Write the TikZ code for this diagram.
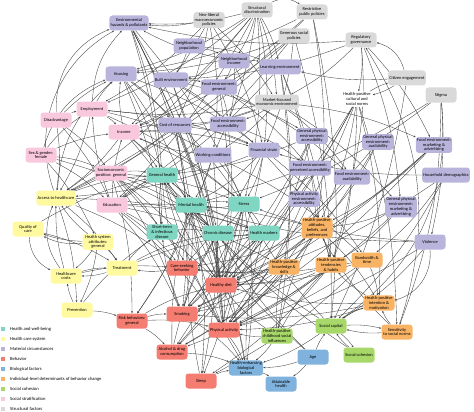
\documentclass[tikz,border=0pt]{standalone}
\usepackage{fontspec}
\setmainfont{Carlito}
\usetikzlibrary{arrows.meta,backgrounds}
\definecolor{hwcol}{HTML}{7FD6C2}
\definecolor{hcscol}{HTML}{FFFAA0}
\definecolor{matcol}{HTML}{B8B4DC}
\definecolor{behcol}{HTML}{F47C70}
\definecolor{biocol}{HTML}{7FB2DC}
\definecolor{indcol}{HTML}{F9B365}
\definecolor{soccol}{HTML}{A8D86A}
\definecolor{stratcol}{HTML}{F9C8DD}
\definecolor{strcol}{HTML}{D9D9D9}

\begin{document}
\begin{tikzpicture}[x=1pt,y=-1pt,
    box/.style={rounded corners=3pt,align=center,minimum width=31pt,minimum height=15pt,inner sep=1.2pt,font=\fontsize{4.4}{4.8}\selectfont},
    hw/.style={box,fill=hwcol},
    hcs/.style={box,fill=hcscol},
    mat/.style={box,fill=matcol},
    beh/.style={box,fill=behcol},
    bio/.style={box,fill=biocol},
    ind/.style={box,fill=indcol},
    soc/.style={box,fill=soccol},
    strat/.style={box,fill=stratcol},
    strc/.style={box,fill=strcol},
    edge/.style={draw=black!75,line width=0.35pt,-{Stealth[length=2.2pt,width=1.8pt]}},
    legtext/.style={anchor=west,inner sep=0pt,font=\fontsize{4.6}{5}\selectfont}]
  \useasboundingbox (0,0) rectangle (474,412);
  \node[strc] (sd) at (257,10) {Structural\\discrimination};
  \node[strc] (rpp) at (312,12) {Restrictive\\public policies};
  \node[strc] (nlp) at (209,20) {Neo-liberal\\macroeconomic\\policies};
  \node[strc] (gsp) at (294,36) {Generous social\\policies};
  \node[strc] (rg) at (361,40) {Regulatory\\governance};
  \node[strc] (ce) at (407,78) {Citizen engagement};
  \node[strc] (stig) at (441,95) {Stigma};
  \node[strc] (mfe) at (277,102) {Market-focused\\economic environment};
  \node[box,fill=white] (csn) at (357,99) {Health-positive\\cultural and\\social norms};
  \node[mat] (ehp) at (129,23) {Environmental\\hazards \& pollutants};
  \node[mat] (hous) at (121,74) {Housing};
  \node[mat] (built) at (171,80) {Built environment};
  \node[mat] (npop) at (189,46) {Neighborhood\\population};
  \node[mat] (ninc) at (234,61) {Neighborhood\\income};
  \node[mat] (learn) at (280,67) {Learning environment};
  \node[mat] (feg) at (219,87) {Food environment:\\general};
  \node[mat] (cost) at (175,125) {Cost of resources};
  \node[mat] (fea) at (228,124) {Food environment:\\accessibility};
  \node[mat] (gpea) at (312,136) {General physical\\environment:\\accessibility};
  \node[mat] (work) at (213,155) {Working conditions};
  \node[mat] (fin) at (264,150) {Financial strain};
  \node[mat] (fepa) at (310,168) {Food environment:\\perceived accessibility};
  \node[mat] (feav) at (352,177) {Food environment:\\availability};
  \node[mat] (paea) at (304,199) {Physical activity\\environment:\\accessibility};
  \node[mat] (gpeav) at (378,142) {General physical\\environment:\\availability};
  \node[mat] (fema) at (434,145) {Food environment:\\marketing \&\\advertising};
  \node[mat] (hhd) at (446,175) {Household demographics};
  \node[mat] (gpem) at (401,207) {General physical\\environment:\\marketing \&\\advertising};
  \node[mat] (viol) at (430,242) {Violence};
  \node[strat] (emp) at (92,109) {Employment};
  \node[strat] (dis) at (56,120) {Disadvantage};
  \node[strat] (inc) at (124,132) {Income};
  \node[strat] (sex) at (41,155) {Sex \& gender:\\female};
  \node[strat] (sep) at (111,173) {Socioeconomic\\position: general};
  \node[strat] (edu) at (112,205) {Education};
  \node[hcs] (acc) at (56,198) {Access to healthcare};
  \node[hcs] (qoc) at (28,229) {Quality of\\care};
  \node[hcs] (hsa) at (98,242) {Health system\\attributes:\\general};
  \node[hcs] (treat) at (122,268) {Treatment};
  \node[hcs] (hcc) at (66,276) {Healthcare\\costs};
  \node[hcs] (prev) at (77,310) {Prevention};
  \node[hw] (gh) at (162,175) {General health};
  \node[hw] (mh) at (191,205) {Mental health};
  \node[hw] (stress) at (244,204) {Stress};
  \node[hw] (sti) at (162,232) {Short-term\\\& infectious\\disease};
  \node[hw] (cd) at (218,233) {Chronic disease};
  \node[hw] (hm) at (264,233) {Health markers};
  \node[beh] (csb) at (182,268) {Care-seeking\\behavior};
  \node[beh] (diet) at (221,285) {Healthy diet};
  \node[beh] (smok) at (182,314) {Smoking};
  \node[beh] (risk) at (132,321) {Risk behaviors:\\general};
  \node[beh] (pa) at (224,330) {Physical activity};
  \node[beh] (alc) at (172,352) {Alcohol \& drug\\consumption};
  \node[beh] (sleep) at (201,381) {Sleep};
  \node[bio] (hebf) at (246,368) {Health-enhancing\\biological\\factors};
  \node[bio] (age) at (313,357) {Age};
  \node[bio] (ah) at (281,384) {Attainable\\health};
  \node[soc] (hcsi) at (277,336) {Health-positive\\childhood social\\influences};
  \node[soc] (scap) at (331,326) {Social capital};
  \node[soc] (scoh) at (359,355) {Social cohesion};
  \node[ind] (att) at (317,228) {Health-positive\\attitudes,\\beliefs, and\\preferences};
  \node[ind] (know) at (284,267) {Health-positive\\knowledge \&\\skills};
  \node[ind] (tend) at (331,265) {Health-positive\\tendencies\\\& habits};
  \node[ind] (band) at (367,260) {Bandwidth \&\\time};
  \node[ind] (intm) at (379,303) {Health-positive\\intention \&\\motivation};
  \node[ind] (sens) at (397,332) {Sensitivity\\to social norms};
  \foreach \c/\t [count=\i from 0] in {hwcol/Health and well-being,hcscol/Health care system,matcol/Material circumstances,behcol/Behavior,biocol/Biological factors,indcol/Individual-level determinants of behavior change,soccol/Social cohesion,stratcol/Social stratification,strcol/Structural factors}{
    \fill[\c] (0.5,{327+10*\i}) rectangle +(4,4);
    \node[legtext] (leg\i) at (10,{329+10*\i}) {\t};
  }
  \begin{scope}[on background layer]
    \foreach \a/\b in {sd/ehp,sd/hous,sd/ninc,sd/learn,sd/emp,sd/inc,sd/edu,sd/stress,sd/acc,sd/mfe,sd/fin,sd/work,
        rpp/inc,rpp/acc,rpp/hous,rpp/att,rpp/scap,nlp/emp,nlp/inc,nlp/fin,nlp/mfe,nlp/cost,nlp/work,nlp/ehp,
        gsp/inc,gsp/edu,gsp/fin,gsp/hous,gsp/acc,gsp/scap,rg/ehp,rg/fema,rg/gpem,rg/feav,rg/mfe,rg/built,rg/csn,
        ce/scap,ce/csn,ce/learn,stig/mh,stig/stress,stig/viol,
        mfe/cost,mfe/fea,mfe/work,mfe/fema,mfe/gpem,mfe/feav,mfe/emp,mfe/inc,
        csn/att,csn/diet,csn/pa,csn/smok,csn/alc,csn/tend,csn/intm,csn/ce,csn/sens,
        ehp/gh,ehp/sti,ehp/cd,ehp/hebf,ehp/diet,ehp/mh,ehp/stress,
        hous/gh,hous/mh,hous/stress,hous/sti,hous/fin,hous/cost,
        built/pa,built/diet,built/paea,built/fea,built/gpea,built/feg,
        npop/learn,npop/built,npop/ninc,ninc/learn,ninc/built,ninc/feg,ninc/fea,ninc/ehp,
        learn/edu,learn/know,learn/att,learn/tend,learn/hcsi,feg/diet,feg/fea,feg/feav,feg/fepa,
        cost/diet,cost/pa,cost/fin,cost/csb,cost/acc,cost/smok,fea/diet,fea/fepa,
        gpea/pa,gpea/smok,gpea/alc,gpea/gh,work/stress,work/mh,work/gh,work/inc,work/risk,work/band,work/sleep,
        fin/stress,fin/mh,fin/diet,fin/csb,fin/band,fin/acc,fepa/diet,fepa/att,feav/diet,feav/tend,
        paea/pa,paea/tend,gpeav/pa,gpeav/diet,gpeav/att,fema/diet,fema/alc,fema/smok,fema/att,
        hhd/diet,hhd/band,hhd/scap,hhd/fin,gpem/pa,gpem/att,gpem/tend,viol/stress,viol/mh,viol/pa,viol/scap,
        emp/inc,emp/work,emp/hous,emp/acc,emp/fin,emp/stress,dis/hous,dis/emp,dis/edu,dis/acc,dis/sep,
        inc/hous,inc/fin,inc/cost,inc/diet,inc/acc,inc/gh,inc/stress,inc/mh,
        sex/sep,sex/emp,sex/inc,sex/edu,sex/cd,sex/hsa,
        sep/gh,sep/mh,sep/cd,sep/sti,sep/diet,sep/smok,sep/risk,sep/pa,sep/stress,
        edu/emp,edu/inc,edu/know,edu/att,edu/csb,edu/diet,edu/smok,edu/pa,edu/gh,edu/hm,
        acc/csb,acc/treat,acc/prev,acc/gh,acc/hm,qoc/treat,qoc/gh,
        hsa/acc,hsa/qoc,hsa/treat,hsa/hcc,hsa/prev,treat/cd,treat/sti,treat/hm,treat/hcc,
        hcc/acc,hcc/csb,hcc/treat,prev/hcc,prev/risk,prev/sti,
        gh/mh,mh/gh,mh/stress,mh/risk,mh/diet,mh/smok,mh/sleep,mh/pa,
        stress/mh,stress/cd,stress/hm,stress/diet,stress/smok,stress/alc,stress/sleep,stress/hebf,
        sti/gh,sti/cd,cd/gh,cd/mh,cd/hm,hm/cd,hm/gh,csb/treat,csb/gh,csb/hm,
        diet/hm,diet/cd,diet/hebf,diet/gh,smok/cd,smok/hm,smok/hebf,smok/sti,
        risk/smok,risk/alc,risk/diet,risk/pa,pa/hm,pa/cd,pa/mh,pa/hebf,pa/stress,
        alc/cd,alc/mh,alc/hebf,sleep/hebf,sleep/mh,hebf/ah,hebf/gh,hebf/hm,
        age/hebf,age/ah,age/scap,age/cd,age/gh,hcsi/hebf,hcsi/diet,hcsi/pa,hcsi/att,hcsi/know,hcsi/tend,
        scap/scoh,scap/mh,scap/stress,scap/intm,scap/sens,scap/hebf,scoh/scap,scoh/mh,
        att/intm,att/diet,att/pa,att/smok,att/tend,att/csb,know/diet,know/pa,know/smok,know/csb,know/att,know/alc,
        tend/diet,tend/pa,tend/smok,tend/alc,tend/sleep,band/diet,band/pa,band/csb,band/sleep,band/intm,
        intm/diet,intm/pa,intm/smok,intm/tend,sens/intm,sens/att,sens/scap}
      \draw[edge] (\a) to[bend left=8] (\b);
    \foreach \a/\b/\k in {dis/ehp/35,acc/ehp/40,emp/ehp/20,sex/hous/25,acc/hous/22,stig/scap/30,viol/intm/40,
        sd/rpp/30,stig/sens/10,hcc/acc/30,hsa/qoc/15}
      \draw[edge] (\a) to[bend left=\k] (\b);
    \foreach \a/\b/\k in {qoc/hcc/30,sens/rg/25,ce/rg/30}
      \draw[edge] (\a) to[bend right=\k] (\b);
  \end{scope}
\end{tikzpicture}
\end{document}
